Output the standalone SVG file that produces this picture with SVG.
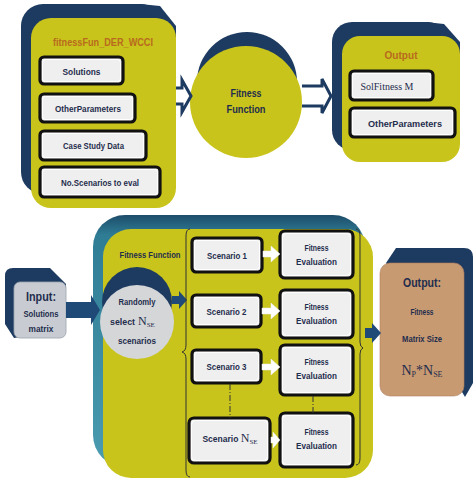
<svg xmlns="http://www.w3.org/2000/svg" width="474" height="481" viewBox="0 0 474 481">
<defs>
<linearGradient id="tealg" x1="0" y1="0" x2="0" y2="1">
<stop offset="0" stop-color="#1d4d6a"/>
<stop offset="0.08" stop-color="#2f7d95"/>
<stop offset="1" stop-color="#4b9cb0"/>
</linearGradient>
</defs>
<style>
.navy{fill:#1d3a60}
.yel{fill:#c9c41c}
.box{fill:#efefef;stroke:#111;stroke-width:3.2}
.inner{fill:none;stroke:#fff;stroke-width:1}
.t{font-family:"Liberation Sans",Arial,sans-serif;font-weight:bold;fill:#1f2d4d;text-anchor:middle}
.ttl{font-family:"Liberation Sans",Arial,sans-serif;font-weight:bold;fill:#b86a1e;text-anchor:middle;font-size:11px}
.serif{font-family:"Liberation Serif","Times New Roman",serif;fill:#1f2d4d;text-anchor:middle}
.hollow{fill:#fff;stroke:#1d3a60;stroke-width:3;stroke-linejoin:miter}
.solid{fill:#1f4a78}
.warrow{fill:#fff;stroke:#e8e8e8;stroke-width:0.5}
.dd{stroke:#333;stroke-width:1;stroke-dasharray:6 2 1 2;fill:none}
.brace{fill:none;stroke:#333;stroke-width:1}
</style>

<!-- top-left block -->
<g id="fitnessFun">
<rect x="21" y="4" width="142" height="190" rx="22" class="navy"/>
<polygon points="140,4 160,6 176,26 176,40" class="navy"/>
<rect x="31" y="18" width="145" height="190" rx="20" class="yel"/>
<text x="103" y="46" class="ttl" textLength="100" lengthAdjust="spacingAndGlyphs">fitnessFun_DER_WCCI</text>
</g>
<g id="box-solutions">
<rect x="40" y="57" width="83" height="27" rx="4" class="box"/>
<rect x="42.5" y="59.5" width="78" height="22" rx="3" class="inner"/>
<text x="81.5" y="75" class="t" font-size="9" textLength="38" lengthAdjust="spacingAndGlyphs">Solutions</text>
</g>
<g id="box-otherparams1">
<rect x="40" y="94" width="95" height="28" rx="4" class="box"/>
<rect x="42.5" y="96.5" width="90" height="23" rx="3" class="inner"/>
<text x="88" y="112" class="t" font-size="9" textLength="66" lengthAdjust="spacingAndGlyphs">OtherParameters</text>
</g>
<g id="box-casestudy">
<rect x="40" y="131" width="106" height="29" rx="4" class="box"/>
<rect x="42.5" y="133.5" width="101" height="24" rx="3" class="inner"/>
<text x="93.5" y="149" class="t" font-size="9" textLength="61" lengthAdjust="spacingAndGlyphs">Case Study Data</text>
</g>
<g id="box-noscen">
<rect x="40" y="167" width="120" height="30" rx="4" class="box"/>
<rect x="42.5" y="169.5" width="115" height="25" rx="3" class="inner"/>
<text x="100" y="186" class="t" font-size="9" textLength="78" lengthAdjust="spacingAndGlyphs">No.Scenarios to eval</text>
</g>

<!-- fitness function circle -->
<g id="fitnessCircle">
<circle cx="247" cy="82" r="50" class="navy"/>
<circle cx="246" cy="102" r="56" class="yel"/>
<text x="246" y="97" class="t" font-size="11" textLength="31" lengthAdjust="spacingAndGlyphs">Fitness</text>
<text x="246" y="113" class="t" font-size="11" textLength="39" lengthAdjust="spacingAndGlyphs">Function</text>
</g>

<!-- output block -->
<g id="outputTop">
<rect x="332" y="22" width="116" height="128" rx="20" class="navy"/>
<polygon points="425,22 444,24 460,42 460,60" class="navy"/>
<rect x="342" y="36" width="118" height="126" rx="18" class="yel"/>
<text x="401" y="59" class="ttl" textLength="33" lengthAdjust="spacingAndGlyphs">Output</text>
</g>
<g id="box-solfitness">
<rect x="350" y="71" width="83" height="29" rx="4" class="box"/>
<rect x="352.5" y="73.5" width="78" height="24" rx="3" class="inner"/>
<text x="387" y="90" class="serif" font-size="11" textLength="53" lengthAdjust="spacingAndGlyphs">SolFitness  M</text>
</g>
<g id="box-otherparams2">
<rect x="350" y="108" width="105" height="29" rx="4" class="box"/>
<rect x="352.5" y="110.5" width="100" height="24" rx="3" class="inner"/>
<text x="405" y="127" class="t" font-size="9" textLength="74" lengthAdjust="spacingAndGlyphs">OtherParameters</text>
</g>

<!-- bottom panel -->
<g id="fitnessPanel">
<rect x="93" y="215" width="272" height="252" rx="32" fill="url(#tealg)"/>
<rect x="103" y="229" width="270" height="249" rx="28" class="yel"/>
<text x="150" y="258" class="t" font-size="9" fill="#1a1a30" textLength="61" lengthAdjust="spacingAndGlyphs">Fitness Function</text>
</g>

<!-- input -->
<g id="input">
<path d="M13,268 H50 L66,284 V330 L14,338 L5,324 V276 Q5,268 13,268 Z" class="navy"/>
<rect x="14" y="282" width="52" height="56" rx="6" fill="#c8ccd2" stroke="#9aa3ad" stroke-width="0.8"/>
<text x="41" y="301" class="t" font-size="13" fill="#1d3a60" textLength="30" lengthAdjust="spacingAndGlyphs">Input:</text>
<text x="41" y="317" class="t" font-size="9.5" textLength="35" lengthAdjust="spacingAndGlyphs">Solutions</text>
<text x="41" y="332" class="t" font-size="9.5" textLength="25" lengthAdjust="spacingAndGlyphs">matrix</text>
</g>

<!-- randomly select -->
<g id="randomSelect">
<circle cx="137" cy="302" r="35" class="navy"/>
<circle cx="137" cy="322" r="37" fill="#d5d6d8"/>
<text x="137" y="305" class="t" font-size="9.5" fill="#1d3a78" textLength="37" lengthAdjust="spacingAndGlyphs">Randomly</text>
<text x="135" y="325" class="t" font-size="9.5" fill="#1d3a78" style="text-anchor:end" textLength="25" lengthAdjust="spacingAndGlyphs">select</text>
<text x="138" y="325" class="serif" font-size="12" style="text-anchor:start">N<tspan font-size="7" dy="2">SE</tspan></text>
<text x="137" y="344" class="t" font-size="9.5" fill="#1d3a78" textLength="38" lengthAdjust="spacingAndGlyphs">scenarios</text>
</g>

<!-- scenarios -->
<g id="scenario1">
<rect x="192" y="238" width="70" height="34" rx="4" class="box"/>
<rect x="194.5" y="240.5" width="65" height="29" rx="3" class="inner"/>
<text x="227" y="259" class="t" font-size="9.5" textLength="40" lengthAdjust="spacingAndGlyphs">Scenario 1</text>
</g>
<g id="fe1">
<rect x="280" y="231" width="73" height="47" rx="5" class="box"/>
<rect x="282.5" y="233.5" width="68" height="42" rx="4" class="inner"/>
<text x="316.5" y="251" class="t" font-size="9.5" textLength="24" lengthAdjust="spacingAndGlyphs">Fitness</text>
<text x="316.5" y="265" class="t" font-size="9.5" textLength="41" lengthAdjust="spacingAndGlyphs">Evaluation</text>
</g>
<g id="scenario2">
<rect x="192" y="295" width="69" height="32" rx="4" class="box"/>
<rect x="194.5" y="297.5" width="64" height="27" rx="3" class="inner"/>
<text x="226.5" y="315" class="t" font-size="9.5" textLength="40" lengthAdjust="spacingAndGlyphs">Scenario 2</text>
</g>
<g id="fe2">
<rect x="280" y="290" width="73" height="48" rx="5" class="box"/>
<rect x="282.5" y="292.5" width="68" height="43" rx="4" class="inner"/>
<text x="316.5" y="310" class="t" font-size="9.5" textLength="24" lengthAdjust="spacingAndGlyphs">Fitness</text>
<text x="316.5" y="324" class="t" font-size="9.5" textLength="41" lengthAdjust="spacingAndGlyphs">Evaluation</text>
</g>
<g id="scenario3">
<rect x="192" y="350" width="69" height="33" rx="4" class="box"/>
<rect x="194.5" y="352.5" width="64" height="28" rx="3" class="inner"/>
<text x="226.5" y="370" class="t" font-size="9.5" textLength="40" lengthAdjust="spacingAndGlyphs">Scenario 3</text>
</g>
<g id="fe3">
<rect x="280" y="345" width="73" height="50" rx="5" class="box"/>
<rect x="282.5" y="347.5" width="68" height="45" rx="4" class="inner"/>
<text x="316.5" y="365" class="t" font-size="9.5" textLength="24" lengthAdjust="spacingAndGlyphs">Fitness</text>
<text x="316.5" y="379" class="t" font-size="9.5" textLength="41" lengthAdjust="spacingAndGlyphs">Evaluation</text>
</g>
<g id="scenarioN">
<rect x="189" y="418" width="81" height="45" rx="5" class="box"/>
<rect x="191.5" y="420.5" width="76" height="40" rx="4" class="inner"/>
<text x="230" y="442" class="t" font-size="8.5">Scenario <tspan font-family="Liberation Serif, serif" font-weight="normal" font-size="12">N</tspan><tspan font-family="Liberation Serif, serif" font-weight="normal" font-size="7" dy="2">SE</tspan></text>
</g>
<g id="fe4">
<rect x="280" y="413" width="73" height="54" rx="5" class="box"/>
<rect x="282.5" y="415.5" width="68" height="49" rx="4" class="inner"/>
<text x="316.5" y="435" class="t" font-size="9.5" textLength="24" lengthAdjust="spacingAndGlyphs">Fitness</text>
<text x="316.5" y="449" class="t" font-size="9.5" textLength="41" lengthAdjust="spacingAndGlyphs">Evaluation</text>
</g>

<!-- output bottom -->
<g id="outputBottom">
<path d="M386,263 L396,248 H464 Q473,248 473,257 V383 L465,397 Z" class="navy"/>
<rect x="380" y="263" width="84" height="133" rx="10" fill="#c89a72" stroke="#b08060" stroke-width="0.6"/>
<text x="422" y="287" class="t" font-size="12" fill="#1d2d55" textLength="38" lengthAdjust="spacingAndGlyphs">Output:</text>
<text x="422" y="315" class="t" font-size="9.5" fill="#1d2d55" textLength="23" lengthAdjust="spacingAndGlyphs">Fitness</text>
<text x="422" y="342" class="t" font-size="9.5" fill="#1d2d55" textLength="40" lengthAdjust="spacingAndGlyphs">Matrix Size</text>
<text x="422" y="375" class="serif" font-size="14">N<tspan font-size="8" dy="2">P</tspan><tspan dy="-2">*N</tspan><tspan font-size="8" dy="2">SE</tspan></text>
</g>

<!-- connectors -->
<g id="connectors">
<path d="M176,88 H182 V80 L191,96 L182,112 V104 H176" class="hollow"/>
<path d="M302,86 H322 V79 L331,96 L322,113 V106 H302" class="hollow"/>
<path d="M66,302 H91 V295 L100,310 L91,325 V318 H66 Z" class="solid"/>
<path d="M172,296 H179 V291 L187,300 L179,309 V304 H172 Z" class="solid"/>
<path d="M365,328 H372 V323 L381,333 L372,343 V338 H365 Z" class="solid"/>
<path d="M263,251 H271 V246 L280,254 L271,262 V257 H263 Z" class="warrow"/>
<path d="M262,308 H271 V303 L280,311 L271,319 V314 H262 Z" class="warrow"/>
<path d="M262,364 H271 V359 L280,367 L271,375 V370 H262 Z" class="warrow"/>
<path d="M271,437 H273 V432 L280,440 L273,448 V443 H271 Z" class="warrow"/>
<path d="M230,384 V418" class="dd"/>
<path d="M313,396 V413" class="dd"/>
<path d="M190,229 Q186,229 186,236 V345 Q186,351 182,352 Q186,353 186,359 V470 Q186,477 190,477" class="brace"/>
<path d="M356,229 Q360,229 360,236 V342 Q360,347 363,348 Q360,349 360,354 V458 Q360,465 356,465" class="brace"/>
</g>
</svg>
